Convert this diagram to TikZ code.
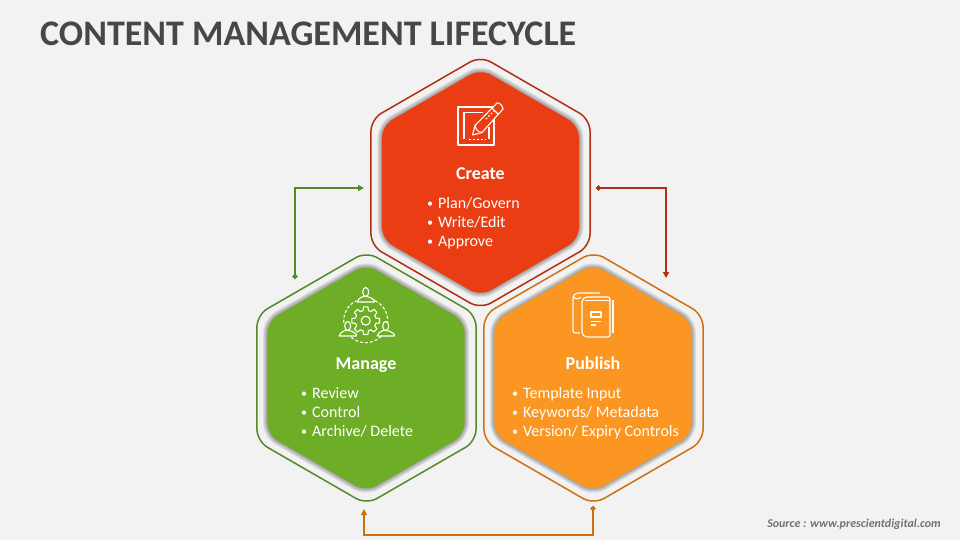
\documentclass[tikz,border=0pt]{standalone}
\usepackage{fontspec}
\setmainfont{Carlito}
\usetikzlibrary{arrows.meta, shapes.geometric, positioning, calc}
\definecolor{pagebg}{HTML}{F2F2F2}
\definecolor{crfill}{HTML}{EB3D13}
\definecolor{crline}{HTML}{B02E12}
\definecolor{mafill}{HTML}{6EAD26}
\definecolor{maline}{HTML}{538A27}
\definecolor{pufill}{HTML}{FB9623}
\definecolor{puline}{HTML}{CE7010}
\newcommand{\bul}{\makebox[11pt][l]{\fontsize{12}{12}\selectfont\raisebox{.6pt}{\textbullet}}}
\tikzset{
  hexring/.style={regular polygon,regular polygon sides=6,shape border rotate=30,minimum size=253pt,inner sep=0pt,outer sep=0pt,rounded corners=12pt,line width=1.5pt},
  hexcore/.style={regular polygon,regular polygon sides=6,shape border rotate=30,minimum size=227.5pt,inner sep=0pt,outer sep=0pt,rounded corners=12pt,
    preaction={draw=black,opacity=.07,line width=9pt},
    preaction={draw=black,opacity=.08,line width=7pt},
    preaction={draw=black,opacity=.08,line width=5pt},
    preaction={draw=black,opacity=.08,line width=3pt},
    preaction={draw=black,opacity=.08,line width=1pt}},
  headtxt/.style={text=white,font=\fontsize{18}{18}\selectfont\bfseries,anchor=base,inner sep=0pt},
  itemtxt/.style={text=white,font=\fontsize{16}{16}\selectfont,anchor=base west,inner sep=0pt},
  icon/.style={draw=white,line width=1.1pt,line join=round},
  link/.style={line width=1.5pt,{Circle[length=5pt]}-{Triangle[length=6pt,width=6pt]}},
  person/.pic={
    \draw[icon] (-8.5,10) -- (8.5,10) -- (8.5,8) [rounded corners=2pt] -- (3,4.5) [sharp corners] -- (-3,4.5) [rounded corners=2pt] -- (-8.5,8) [sharp corners] -- cycle;
    \draw[icon] (0,0) ellipse (3 and 4.5);
  }
}
\begin{document}
\begin{tikzpicture}[x=1pt,y=-1pt]
\fill[pagebg] (0,0) rectangle (960,540);
\useasboundingbox (0,0) rectangle (960,540);
\node[text=black!72,font=\fontsize{36}{36}\selectfont\bfseries,anchor=base west,inner sep=0pt] (title) at (40,46) {CONTENT MANAGEMENT LIFECYCLE};
% Create
\node[hexring,draw=crline] (cr_out) at (480.5,182.5) {};
\node[hexcore,fill=crfill] (cr_in) at (480.5,182.5) {};
\node[headtxt] (cr_head) at (480.5,179) {Create};
\node[itemtxt] (cr_1) at (427,208) {\bul Plan/Govern};
\node[itemtxt] (cr_2) at (427,227) {\bul Write/Edit};
\node[itemtxt] (cr_3) at (427,246) {\bul Approve};
% Manage
\node[hexring,draw=maline] (ma_out) at (366.5,378) {};
\node[hexcore,fill=mafill] (ma_in) at (366,378) {};
\node[headtxt] (ma_head) at (366,369) {Manage};
\node[itemtxt] (ma_1) at (301,398) {\bul Review};
\node[itemtxt] (ma_2) at (301,417) {\bul Control};
\node[itemtxt] (ma_3) at (301,436) {\bul Archive/ Delete};
% Publish
\node[hexring,draw=puline] (pu_out) at (593.5,378) {};
\node[hexcore,fill=pufill] (pu_in) at (593,378) {};
\node[headtxt] (pu_head) at (593,369) {Publish};
\node[itemtxt] (pu_1) at (512,398) {\bul Template Input};
\node[itemtxt] (pu_2) at (512,417) {\bul Keywords/ Metadata};
\node[itemtxt] (pu_3) at (512,436) {\bul Version/ Expiry Controls};
% Links between the hexagons
\coordinate (gr_a) at (295,279);
\coordinate (gr_b) at (364,188);
\coordinate (rd_a) at (596,188);
\coordinate (rd_b) at (666,278);
\coordinate (or_a) at (593,506);
\coordinate (or_c) at (593,535);
\coordinate (or_b) at (364,509);
\draw[link,color=maline] (gr_a) |- (gr_b);
\draw[link,color=crline] (rd_a) -| (rd_b);
\draw[link,color=puline] (or_a) -- (or_c) -| (or_b);
% Pencil icon
\draw[icon] (458,107) rectangle (494,145);
\draw[icon] (483,112.5) -- (464,112.5) -- (464,139.5);
\draw[icon,dash pattern=on 2pt off 2pt] (469,139.5) -- (486,139.5);
\draw[icon] (489,127) -- (489,139.5);
\draw[icon,fill=crfill] (472.5,135) -- (475,125.5) -- (497,103) .. controls (499,102) and (503,106) .. (503,109) -- (482,132.5) -- cycle;
\draw[icon] (492,108) -- (498,114);
\draw[icon] (475,125.5) .. controls (476,130) and (478,132) .. (482,132.5);
\draw[icon,dash pattern=on 1.5pt off 2pt] (486,119) -- (495,110);
% Manage icon
\begin{scope}[shift={(365.7,320.7)}]
\draw[icon,dash pattern=on 3pt off 2pt] (-65:22) arc[start angle=-65,end angle=5,radius=22];
\draw[icon,dash pattern=on 3pt off 2pt] (45:22) arc[start angle=45,end angle=135,radius=22];
\draw[icon,dash pattern=on 3pt off 2pt] (175:22) arc[start angle=175,end angle=245,radius=22];
\draw[icon] (-9:14) \foreach \a in {0,45,...,315} { -- (\a-9:14) -- (\a+9:14) -- (\a+15:10.5) -- (\a+30:10.5) } -- cycle;
\draw[icon] (0,0) circle (4.5);
\end{scope}
\pic at (365.7,292) {person};
\pic at (347.7,326) {person};
\pic at (385.7,326) {person};
% Book icon
\draw[icon,rounded corners=2pt] (600,293) -- (576,293) -- (573,296) -- (573,333) -- (580,333);
\draw[icon] (573,296) .. controls (575,300) and (579,299) .. (581,297);
\draw[icon,rounded corners=2pt] (582,300) -- (585,297) -- (610,297) -- (610,337) -- (585,337) -- (582,334) -- cycle;
\draw[icon] (585,300.5) -- (610,300.5);
\draw[icon] (613,300) -- (613,333);
\draw[icon] (591,312) rectangle (601,317);
\draw[icon] (591,321.5) -- (601,321.5) (591,325) -- (596,325);
% Source
\node[text=black!55,font=\fontsize{12}{12}\selectfont\bfseries\itshape,anchor=base east,inner sep=0pt] (source) at (941,527) {Source : www.prescientdigital.com};
\end{tikzpicture}
\end{document}
